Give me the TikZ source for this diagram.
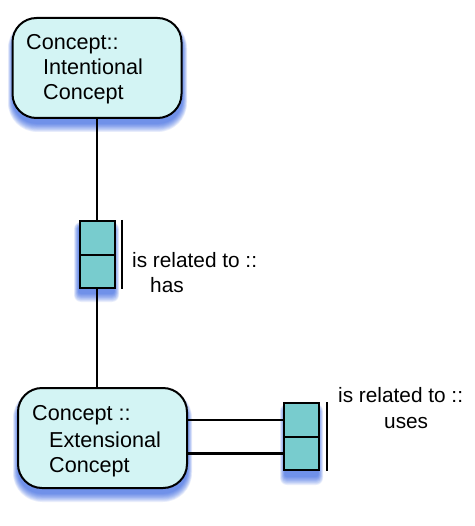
\documentclass[tikz,border=0pt]{standalone}
\usepackage{fontspec}
\setmainfont{Liberation Sans}
\definecolor{bigfill}{HTML}{D3F4F4}
\definecolor{smallfill}{HTML}{78CCCE}
\definecolor{glowc}{HTML}{1A50E0}
\tikzset{
  bigbox/.style={draw=black, line width=2pt, fill=bigfill, rounded corners=24pt,
    minimum width=169pt, minimum height=100pt, inner sep=0pt},
  relbox/.style={draw=black, line width=2pt, fill=smallfill,
    minimum width=35pt, minimum height=33.5pt, inner sep=0pt},
  conn/.style={draw=black, line width=2.2pt},
  bar/.style={draw=black, line width=2pt},
  txt/.style={font=\fontsize{20.8}{25}\selectfont, inner sep=0pt, anchor=base west},
  btxt/.style={font=\fontsize{21.6}{25}\selectfont, inner sep=0pt, anchor=base west},
}
\newcommand\glowshape[5]{% x1 y1 x2 y2 radius
  \foreach \s in {1,...,10}{
    \fill[glowc, opacity=0.09, rounded corners=#5+\s*0.5pt]
      (#1-\s*0.5, #2+6-\s*0.5) rectangle (#3+\s*0.5, #4+5+\s*0.9);
  }}
\begin{document}
\begin{tikzpicture}[x=1pt,y=-1pt]
\useasboundingbox[fill=white] (0,0) rectangle (474,526);
% glows
\glowshape{13}{18}{182}{118}{24pt}
\glowshape{18}{388}{187}{488}{24pt}
\glowshape{79}{221}{114}{288}{2pt}
\glowshape{285}{403}{318}{471}{2pt}
% boxes
\node[bigbox] (top) at (97,68) {};
\node[bigbox] (bot) at (102.5,438) {};
\node[relbox] (r1a) at (97,237.75) {};
\node[relbox] (r1b) at (97,271.25) {};
\node[relbox] (r2a) at (301.5,420) {};
\node[relbox] (r2b) at (301.5,453.5) {};
% connectors
\draw[conn] (top.south) -- (r1a.north);
\draw[conn] (r1b.south) -- (r1b.south |- bot.north);
\draw[conn] (r2a.west -| bot.east) -- (r2a.west);
\draw[conn] (r2b.west -| bot.east) -- (r2b.west);
% bars
\draw[bar] ([xshift=6pt]r1a.north east) -- ([xshift=6pt]r1b.south east);
\draw[bar] ([xshift=7pt]r2a.north east) -- ([xshift=7pt]r2b.south east);
% texts
\node[btxt] (t1) at (26,50) {Concept::};
\node[btxt] (t2) at (43,75) {Intentional};
\node[btxt] (t3) at (43,100) {Concept};
\node[btxt] (b1) at (32,420) {Concept ::};
\node[btxt] (b2) at (49,447) {Extensional};
\node[btxt] (b3) at (49,472) {Concept};
\node[txt] (l1) at (132,267) {is related to ::};
\node[txt] (l2) at (150,292) {has};
\node[txt] (l3) at (338,402) {is related to ::};
\node[txt] (l4) at (384,428) {uses};
\end{tikzpicture}
\end{document}
